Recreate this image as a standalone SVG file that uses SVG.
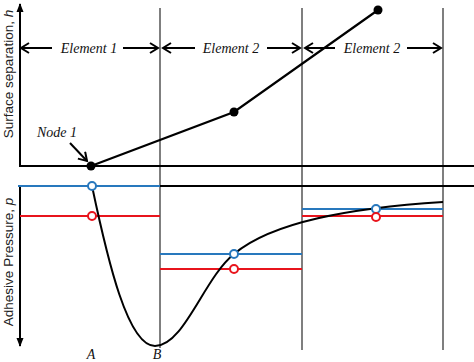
<svg xmlns="http://www.w3.org/2000/svg" width="474" height="362" viewBox="0 0 474 362">
<style>
.axis{stroke:#000;stroke-width:2;fill:none}
.grid{stroke:#555;stroke-width:1.5;fill:none}
.dim{stroke:#000;stroke-width:2;fill:none}
.lbl{font-family:"Liberation Serif",serif;font-style:italic;font-size:14px;fill:#111}
.ax{font-family:"Liberation Sans",Arial,sans-serif;font-size:13.5px;fill:#222}
.blue{stroke:#2878bd;stroke-width:2.2;fill:none}
.red{stroke:#e8141c;stroke-width:2.2;fill:none}
.bc{stroke:#2878bd;stroke-width:2;fill:#fff}
.rc{stroke:#e8141c;stroke-width:2;fill:#fff}
.node{fill:#000}
</style>
<defs>
<marker id="chev" markerWidth="12" markerHeight="12" refX="10" refY="6" orient="auto" markerUnits="userSpaceOnUse">
<path d="M2,1 L10,6 L2,11" fill="none" stroke="#000" stroke-width="2"/>
</marker>
<marker id="tri" markerWidth="10" markerHeight="10" refX="8" refY="5" orient="auto" markerUnits="userSpaceOnUse">
<path d="M0,1.5 L9,5 L0,8.5 Z" fill="#000"/>
</marker>
</defs>
<g id="grid">
<line class="grid" x1="160" y1="8" x2="160" y2="348"/>
<line class="grid" x1="302" y1="8" x2="302" y2="350"/>
<line class="grid" x1="443" y1="8" x2="443" y2="350"/>
</g>
<g id="axes">
<line class="axis" x1="19" y1="166" x2="474" y2="166"/>
<line class="axis" x1="20" y1="166" x2="20" y2="4" marker-end="url(#tri)"/>
<line class="axis" x1="19" y1="186" x2="474" y2="186"/>
<line class="axis" x1="20" y1="186" x2="20" y2="346" marker-end="url(#tri)"/>
<text class="ax" transform="translate(13,74) rotate(-90)" text-anchor="middle">Surface separation, <tspan font-style="italic">h</tspan></text>
<text class="ax" transform="translate(13,262) rotate(-90)" text-anchor="middle">Adhesive Pressure, <tspan font-style="italic">p</tspan></text>
</g>
<g id="connectors">
<line class="dim" x1="52" y1="48" x2="21" y2="48" marker-end="url(#chev)"/>
<line class="dim" x1="123" y1="48" x2="158" y2="48" marker-end="url(#chev)"/>
<line class="dim" x1="195" y1="48" x2="163" y2="48" marker-end="url(#chev)"/>
<line class="dim" x1="267" y1="48" x2="300" y2="48" marker-end="url(#chev)"/>
<line class="dim" x1="335" y1="48" x2="305" y2="48" marker-end="url(#chev)"/>
<line class="dim" x1="407" y1="48" x2="441" y2="48" marker-end="url(#chev)"/>
<line class="dim" x1="70" y1="143" x2="87" y2="161" marker-end="url(#chev)"/>
<polyline fill="none" stroke="#000" stroke-width="2.2" points="91,166 234,112 378,10"/>
</g>
<g id="labels">
<text class="lbl" x="89" y="53" text-anchor="middle">Element 1</text>
<text class="lbl" x="231" y="53" text-anchor="middle">Element 2</text>
<text class="lbl" x="372" y="53" text-anchor="middle">Element 2</text>
<text class="lbl" x="57" y="137" text-anchor="middle">Node 1</text>
<text class="lbl" x="91" y="359" text-anchor="middle">A</text>
<text class="lbl" x="157" y="359" text-anchor="middle">B</text>
</g>
<g id="node1"><circle class="node" cx="91" cy="166" r="4.5"/></g>
<g id="node2"><circle class="node" cx="234" cy="112" r="4.5"/></g>
<g id="node3"><circle class="node" cx="378" cy="10" r="4.5"/></g>
<g id="pressure">
<line class="blue" x1="18" y1="186" x2="160" y2="186"/>
<line class="red" x1="20" y1="216" x2="160" y2="216"/>
<line class="blue" x1="160" y1="254" x2="302" y2="254"/>
<line class="red" x1="160" y1="269" x2="302" y2="269"/>
<line class="blue" x1="302" y1="209" x2="443" y2="209"/>
<line class="red" x1="302" y1="216" x2="443" y2="216"/>
<path d="M92,186 C108,262 128,346 155,346 C184,346 204,278 234,254 C272,222 350,208 443,202" fill="none" stroke="#000" stroke-width="2"/>
<circle class="bc" cx="92" cy="186" r="4"/>
<circle class="rc" cx="92" cy="216" r="4"/>
<circle class="bc" cx="234" cy="254" r="4"/>
<circle class="rc" cx="234" cy="269" r="4"/>
<circle class="bc" cx="376" cy="209" r="4"/>
<circle class="rc" cx="376" cy="217" r="4"/>
</g>
</svg>
